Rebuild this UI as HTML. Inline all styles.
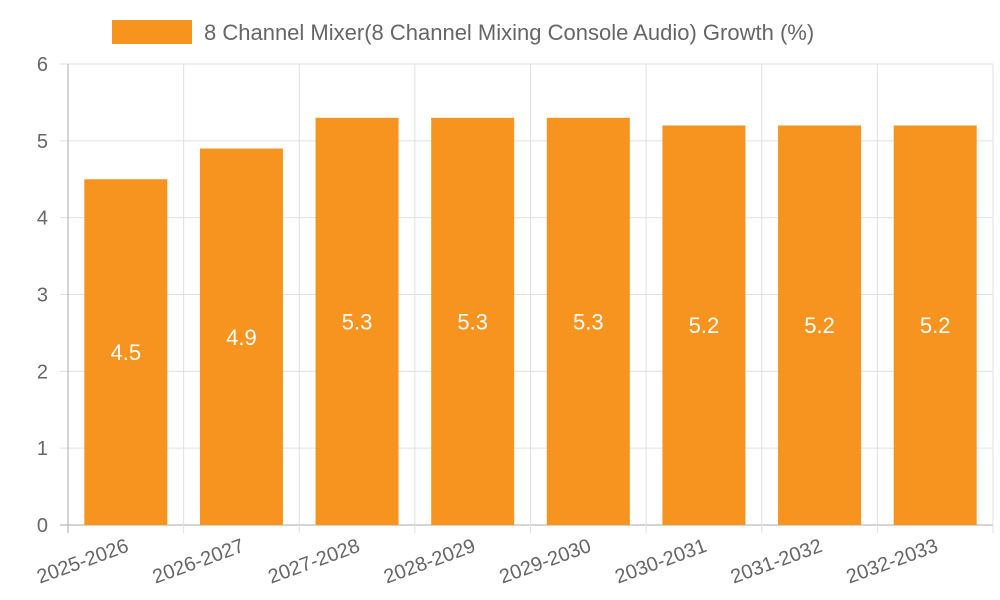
<!DOCTYPE html>
<html><head><meta charset="utf-8"><style>
body{margin:0;background:#fff;}
svg{display:block;font-family:"Liberation Sans",sans-serif;}
</style></head><body>
<svg id="chart" width="1000" height="600">
<g>
<rect x="112" y="20" width="80" height="24" fill="#f7941f"></rect>
<text x="204" y="40" font-size="22" fill="#666">8 Channel Mixer(8 Channel Mixing Console Audio) Growth (%)</text>
</g>
<g id="grid"></g><g id="bars"></g><g id="axes"></g>
</svg>
<script>
const categories=["2025-2026","2026-2027","2027-2028","2028-2029","2029-2030","2030-2031","2031-2032","2032-2033"];
const values=[4.5,4.9,5.3,5.3,5.3,5.2,5.2,5.2];
const yTicks=[0,1,2,3,4,5,6];
const NS="http://www.w3.org/2000/svg";
const L=68,R=993,T=64,B=525,yMax=6;
const y=v=>B-(v/yMax)*(B-T);
const band=(R-L)/categories.length;
const x=i=>L+i*band;
function mk(tag,attrs,parent,txt){const e=document.createElementNS(NS,tag);for(const k in attrs)e.setAttribute(k,attrs[k]);if(txt!==undefined)e.textContent=txt;parent.appendChild(e);return e;}
const grid=document.getElementById('grid'),bars=document.getElementById('bars'),axes=document.getElementById('axes');
yTicks.forEach(t=>{
 const g=mk('line',{x1:L-8,x2:R,y1:y(t),y2:y(t),stroke:t===0?'#aaa':'#e0e0e0','stroke-width':1},grid);
 
 
 const lb=mk('text',{x:L-20,y:y(t)+7,'font-size':20,fill:'#666','text-anchor':'end'},axes,String(t));
 
 
});
for(let i=0;i<=categories.length;i++){
 const g=mk('line',{x1:x(i),x2:x(i),y1:T,y2:B+8,stroke:i===0?'#aaa':'#e0e0e0','stroke-width':1},grid);
 
 
}
categories.forEach((c,i)=>{
 const bw=83,cx=x(i)+band/2;
 const r=mk('rect',{x:cx-bw/2,y:y(values[i]),width:bw,height:B-y(values[i]),fill:'#f7941f'},bars);
 
 
 const v=mk('text',{x:cx,y:(y(values[i])+B)/2+8,'font-size':22,fill:'#fff','text-anchor':'middle'},bars,String(values[i]));
 
 
 const t=mk('text',{x:0,y:0,'font-size':20,fill:'#666','text-anchor':'end',transform:`translate(${cx+4},${B+26}) rotate(-20)`},axes,c);
 
 
});
</script>
</body></html>
